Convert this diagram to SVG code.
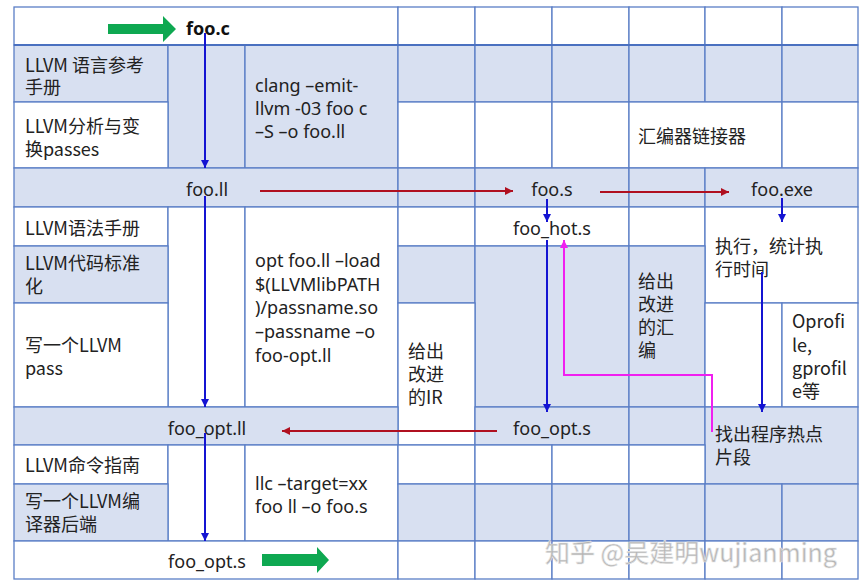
<svg xmlns="http://www.w3.org/2000/svg" width="865" height="588" viewBox="0 0 865 588">
<defs>
<style>
.b{fill:#D8E0F1;stroke:#5A7EC6;stroke-width:1.3}
.w{fill:#FFFFFF;stroke:#5A7EC6;stroke-width:1.3}
text{font-family:"Noto Sans","Noto Sans CJK SC",sans-serif;font-size:18px;fill:#222}
.c{text-anchor:middle}
.cj{font-family:"Noto Sans CJK SC","Noto Sans",sans-serif}
.bold{font-weight:bold;fill:#111}
.blue{stroke:#1414D2;stroke-width:2;fill:none}
.red{stroke:#B01020;stroke-width:2;fill:none}
.mag{stroke:#F020F0;stroke-width:2;fill:none}
.green{fill:#0EA851}
.wm{font-family:"Noto Sans CJK SC","Noto Sans",sans-serif;font-size:25px;fill:#B4B4B4;stroke:#E6E6E6;stroke-width:0.6}
</style>
<marker id="ab" viewBox="0 0 10 10" refX="10" refY="5" markerWidth="4" markerHeight="4" orient="auto-start-reverse" markerUnits="strokeWidth"><path d="M0,0 L10,5 L0,10 z" fill="#1414D2"/></marker>
<marker id="ar" viewBox="0 0 10 10" refX="10" refY="5" markerWidth="4" markerHeight="4" orient="auto-start-reverse" markerUnits="strokeWidth"><path d="M0,0 L10,5 L0,10 z" fill="#B01020"/></marker>
<marker id="am" viewBox="0 0 10 10" refX="10" refY="5" markerWidth="4" markerHeight="4" orient="auto-start-reverse" markerUnits="strokeWidth"><path d="M0,0 L10,5 L0,10 z" fill="#F020F0"/></marker>
</defs>
<rect x="0" y="0" width="865" height="588" fill="#FFFFFF"/>
<g id="table">
<!-- R0 -->
<rect class="w" x="14" y="7" width="384" height="38"/>
<rect class="w" x="398" y="7" width="77" height="38"/>
<rect class="w" x="475" y="7" width="77" height="38"/>
<rect class="w" x="552" y="7" width="77" height="38"/>
<rect class="w" x="629" y="7" width="76" height="38"/>
<rect class="w" x="705" y="7" width="77" height="38"/>
<rect class="w" x="782" y="7" width="76" height="38"/>
<!-- R1 -->
<rect class="b" x="14" y="45" width="154" height="57"/>
<rect class="b" x="168" y="45" width="77" height="123"/>
<rect class="b" x="245" y="45" width="153" height="123"/>
<rect class="b" x="398" y="45" width="77" height="57"/>
<rect class="b" x="475" y="45" width="77" height="57"/>
<rect class="b" x="552" y="45" width="77" height="57"/>
<rect class="b" x="629" y="45" width="76" height="57"/>
<rect class="b" x="705" y="45" width="77" height="57"/>
<rect class="b" x="782" y="45" width="76" height="57"/>
<!-- R2 -->
<rect class="w" x="14" y="102" width="154" height="66"/>
<rect class="w" x="398" y="102" width="77" height="66"/>
<rect class="w" x="475" y="102" width="77" height="66"/>
<rect class="w" x="552" y="102" width="77" height="66"/>
<rect class="w" x="629" y="102" width="153" height="66"/>
<rect class="w" x="782" y="102" width="76" height="66"/>
<!-- R3 -->
<rect class="b" x="14" y="168" width="384" height="39"/>
<rect class="b" x="398" y="168" width="77" height="39"/>
<rect class="b" x="475" y="168" width="154" height="39"/>
<rect class="b" x="629" y="168" width="76" height="39"/>
<rect class="b" x="705" y="168" width="153" height="39"/>
<!-- R4 -->
<rect class="w" x="14" y="207" width="154" height="39"/>
<rect class="w" x="168" y="207" width="77" height="200"/>
<rect class="w" x="245" y="207" width="153" height="200"/>
<rect class="w" x="398" y="207" width="77" height="39"/>
<rect class="w" x="475" y="207" width="154" height="39"/>
<rect class="w" x="629" y="207" width="76" height="39"/>
<rect class="w" x="705" y="207" width="153" height="96"/>
<!-- R5 -->
<rect class="b" x="14" y="246" width="154" height="57"/>
<rect class="b" x="398" y="246" width="77" height="57"/>
<rect class="b" x="475" y="246" width="154" height="161"/>
<rect class="b" x="629" y="246" width="76" height="161"/>
<!-- R6 -->
<rect class="w" x="14" y="303" width="154" height="104"/>
<rect class="w" x="398" y="303" width="77" height="142"/>
<rect class="w" x="705" y="303" width="77" height="104"/>
<rect class="w" x="782" y="303" width="76" height="104"/>
<!-- R7 -->
<rect class="b" x="14" y="407" width="384" height="38"/>
<rect class="b" x="475" y="407" width="154" height="38"/>
<rect class="b" x="629" y="407" width="76" height="38"/>
<rect class="b" x="705" y="407" width="153" height="77"/>
<!-- R8 -->
<rect class="w" x="14" y="445" width="154" height="39"/>
<rect class="w" x="168" y="445" width="77" height="96"/>
<rect class="w" x="245" y="445" width="153" height="96"/>
<rect class="w" x="398" y="445" width="77" height="39"/>
<rect class="w" x="475" y="445" width="77" height="39"/>
<rect class="w" x="552" y="445" width="77" height="39"/>
<rect class="w" x="629" y="445" width="76" height="39"/>
<!-- R9 -->
<rect class="b" x="14" y="484" width="154" height="57"/>
<rect class="b" x="398" y="484" width="77" height="57"/>
<rect class="b" x="475" y="484" width="77" height="57"/>
<rect class="b" x="552" y="484" width="77" height="57"/>
<rect class="b" x="629" y="484" width="76" height="57"/>
<rect class="b" x="705" y="484" width="77" height="57"/>
<rect class="b" x="782" y="484" width="76" height="57"/>
<!-- R10 -->
<rect class="w" x="14" y="541" width="384" height="38"/>
<rect class="w" x="398" y="541" width="77" height="38"/>
<rect class="w" x="475" y="541" width="77" height="38"/>
<rect class="w" x="552" y="541" width="77" height="38"/>
<rect class="w" x="629" y="541" width="76" height="38"/>
<rect class="w" x="705" y="541" width="77" height="38"/>
<rect class="w" x="782" y="541" width="76" height="38"/>
<line x1="14" y1="45" x2="858" y2="45" stroke="#4A70C0" stroke-width="2.2"/>
</g>
<g id="node-foo-c">
<path class="green" d="M108,24 H163 V16 L176,29 L163,42 V34 H108 Z"/>
<text class="bold" x="186" y="35">foo.c</text>
</g>
<g id="node-lang-ref"><text class="cj" x="25" y="72">LLVM 语言参考</text><text class="cj" x="25" y="94">手册</text></g>
<g id="node-passes"><text class="cj" x="25" y="133">LLVM分析与变</text><text class="cj" x="25" y="156">换passes</text></g>
<g id="node-clang"><text x="255" y="92">clang –emit-</text><text x="255" y="115">llvm -03 foo c</text><text x="255" y="138">–S –o foo.ll</text></g>
<g id="node-asm-linker"><text class="cj" x="638" y="143">汇编器链接器</text></g>
<g id="node-foo-ll"><text class="c" x="207" y="196">foo.ll</text></g>
<g id="node-foo-s"><text class="c" x="552" y="196">foo.s</text></g>
<g id="node-foo-exe"><text class="c" x="782" y="196">foo.exe</text></g>
<g id="node-syntax"><text class="cj" x="25" y="235">LLVM语法手册</text></g>
<g id="node-foo-hot"><text class="c" x="552" y="235">foo_hot.s</text></g>
<g id="node-exec"><text class="cj" x="715" y="253">执行，统计执</text><text class="cj" x="715" y="276">行时间</text></g>
<g id="node-normalize"><text class="cj" x="25" y="270">LLVM代码标准</text><text class="cj" x="25" y="293">化</text></g>
<g id="node-opt"><text x="255" y="267">opt foo.ll –load</text><text x="255" y="291">$(LLVMlibPATH</text><text x="255" y="314">)/passname.so</text><text x="255" y="338">–passname –o</text><text x="255" y="362">foo-opt.ll</text></g>
<g id="node-write-pass"><text class="cj" x="25" y="352">写一个LLVM</text><text class="cj" x="25" y="375">pass</text></g>
<g id="node-improved-ir"><text class="cj" x="408" y="358">给出</text><text class="cj" x="408" y="381">改进</text><text class="cj" x="408" y="404">的IR</text></g>
<g id="node-improved-asm"><text class="cj" x="638" y="288">给出</text><text class="cj" x="638" y="311">改进</text><text class="cj" x="638" y="334">的汇</text><text class="cj" x="638" y="357">编</text></g>
<g id="node-oprofile"><text class="cj" x="792" y="328">Oprofi</text><text class="cj" x="792" y="352">le,</text><text class="cj" x="792" y="375">gprofil</text><text class="cj" x="792" y="398">e等</text></g>
<g id="node-foo-opt-ll"><text class="c" x="207" y="435">foo_opt.ll</text></g>
<g id="node-foo-opt-s-mid"><text class="c" x="552" y="435">foo_opt.s</text></g>
<g id="node-hotspot"><text class="cj" x="715" y="441">找出程序热点</text><text class="cj" x="715" y="464">片段</text></g>
<g id="node-cmd-guide"><text class="cj" x="25" y="472">LLVM命令指南</text></g>
<g id="node-backend"><text class="cj" x="25" y="508">写一个LLVM编</text><text class="cj" x="25" y="531">译器后端</text></g>
<g id="node-llc"><text x="255" y="490">llc –target=xx</text><text x="255" y="513">foo ll –o foo.s</text></g>
<g id="node-foo-opt-s">
<text class="c" x="207" y="568">foo_opt.s</text>
<path class="green" d="M262,554 H317 V547 L329,560 L317,573 V566 H262 Z"/>
</g>
<g id="connectors">
<line class="blue" x1="205" y1="33" x2="205" y2="168" marker-end="url(#ab)"/>
<line class="blue" x1="205" y1="196" x2="205" y2="407" marker-end="url(#ab)"/>
<line class="blue" x1="205" y1="433" x2="205" y2="541" marker-end="url(#ab)"/>
<line class="red" x1="260" y1="191" x2="513" y2="191" marker-end="url(#ar)"/>
<line class="red" x1="600" y1="192" x2="729" y2="192" marker-end="url(#ar)"/>
<line class="blue" x1="547" y1="199" x2="547" y2="222" marker-end="url(#ab)"/>
<line class="blue" x1="547" y1="240" x2="547" y2="412" marker-end="url(#ab)"/>
<line class="blue" x1="782" y1="198" x2="782" y2="222" marker-end="url(#ab)"/>
<line class="blue" x1="762" y1="272" x2="762" y2="412" marker-end="url(#ab)"/>
<polyline class="mag" points="712,432 712,375 564,375 564,240" marker-end="url(#am)"/>
<line class="red" x1="497" y1="431" x2="282" y2="431" marker-end="url(#ar)"/>
</g>
<text class="wm" x="545" y="562">知乎 @吴建明wujianming</text>
</svg>
